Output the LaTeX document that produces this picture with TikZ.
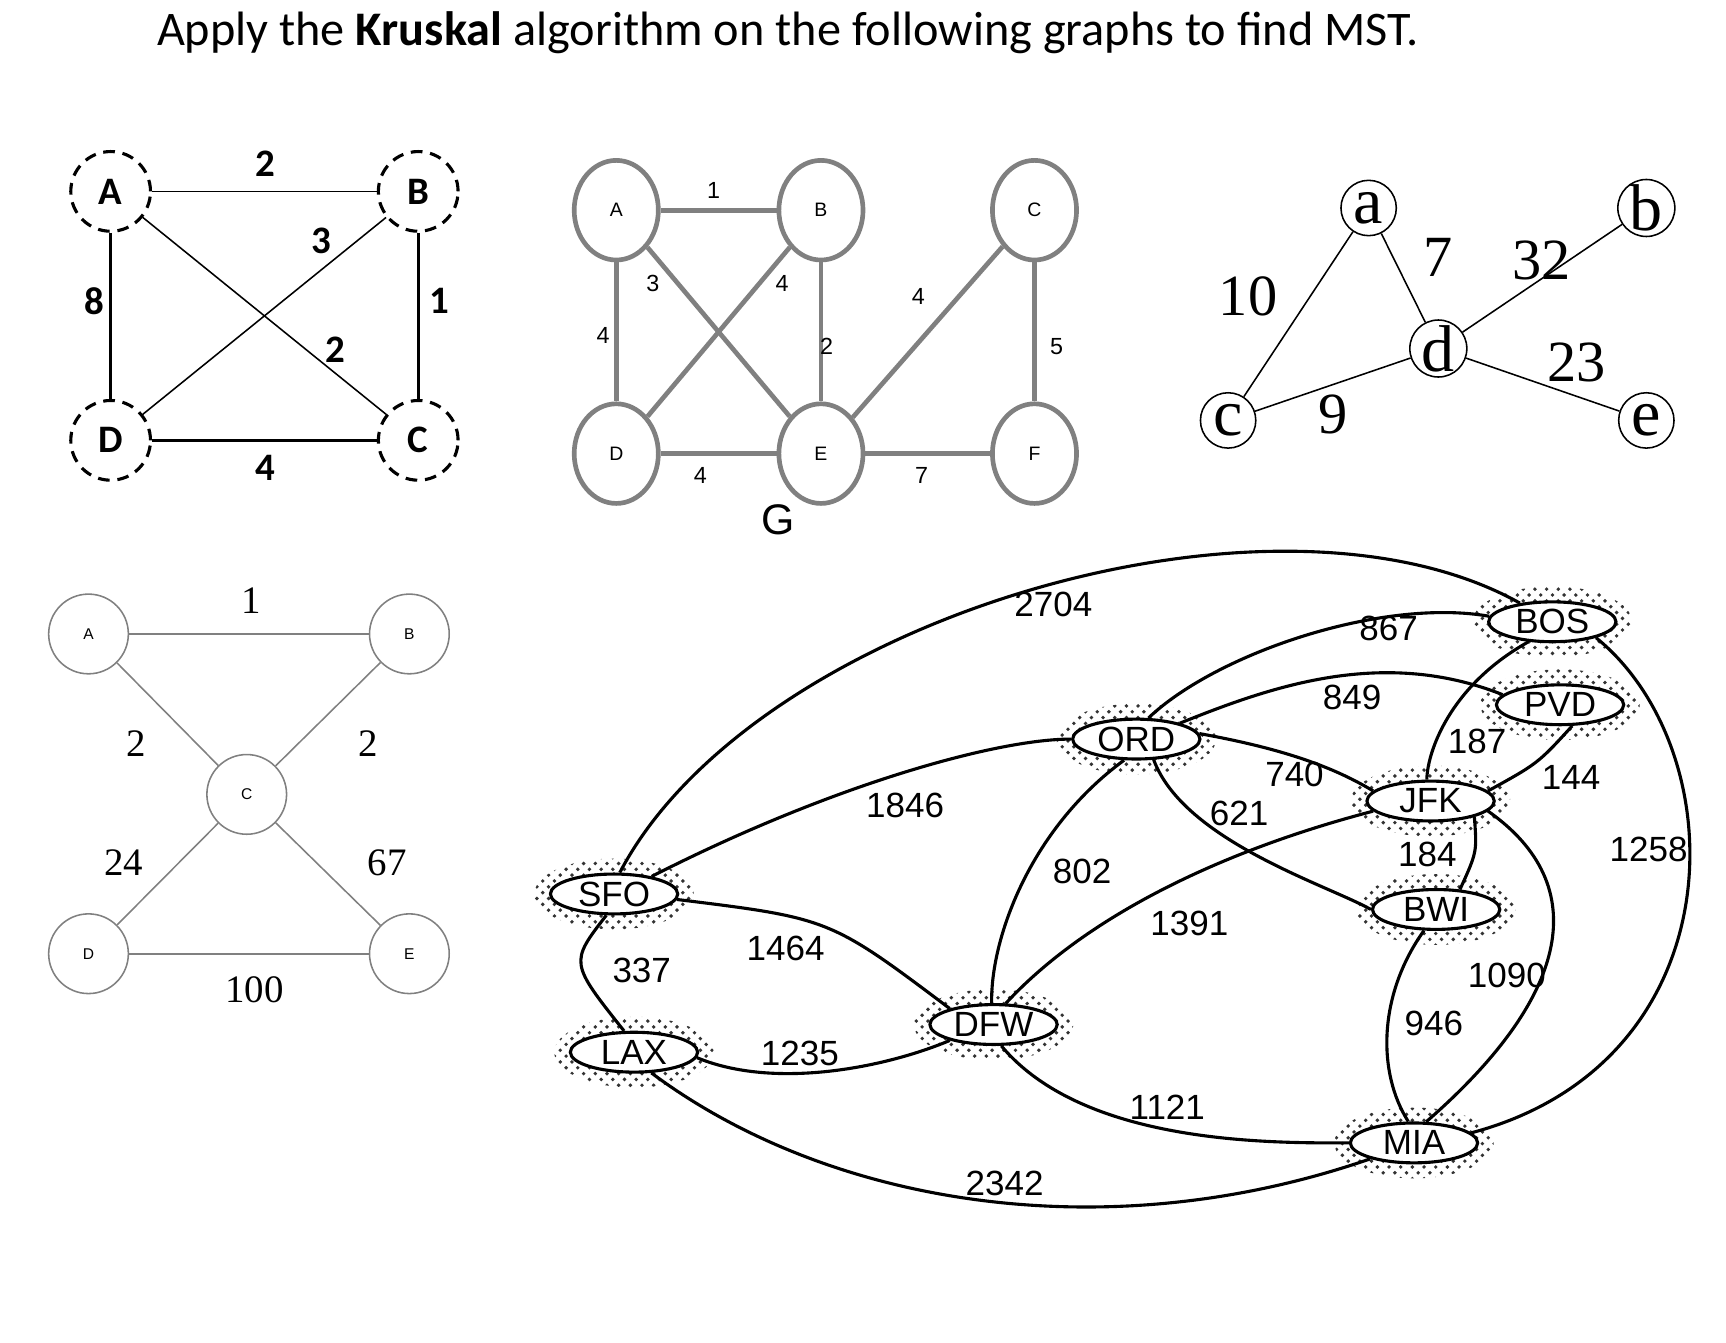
\documentclass[tikz,border=0pt]{standalone}
\usepackage{fontspec}
\setmainfont{Liberation Serif}
\newfontfamily\calfnt{Carlito}
\newfontfamily\ars{Liberation Sans}
\usetikzlibrary{shapes.geometric,patterns}
\begin{document}
\begin{tikzpicture}[x=0.01cm,y=-0.01cm,
 g1/.style={circle,draw,densely dashed,thick,minimum size=0.72cm,font=\calfnt\bfseries\fontsize{10}{12}\selectfont},
 l1/.style={font=\calfnt\bfseries\fontsize{10}{12}\selectfont},
 g2/.style={ellipse,draw=gray,line width=1.2pt,minimum width=0.76cm,minimum height=0.9cm,font=\ars\fontsize{5}{6}\selectfont},
 e2/.style={gray,line width=1.2pt},
 l2/.style={font=\ars\fontsize{6}{7}\selectfont},
 g3/.style={circle,draw,minimum size=0.5cm,inner sep=0pt,font=\fontsize{17}{18}\selectfont},
 l3/.style={font=\fontsize{15}{16}\selectfont},
 g4/.style={circle,draw=gray,minimum size=0.72cm,font=\ars\fontsize{4}{5}\selectfont},
 e4/.style={gray},
 l4/.style={font=\fontsize{10}{12}\selectfont},
 ap/.style={ellipse,draw,thick,fill=white,minimum width=1.15cm,minimum height=0.36cm,inner sep=0pt,font=\ars\fontsize{9}{10}\selectfont},
 l5/.style={font=\ars\fontsize{9}{10}\selectfont},
 e5/.style={thick}]
\useasboundingbox (0,0) rectangle (1560,1213);
\node[font=\calfnt\fontsize{12.4}{14}\selectfont] (title) at (712,30) {Apply the \textbf{Kruskal} algorithm on the following graphs to find MST.};
% graph 1
\node[g1] (A1) at (100,173) {A}; \node[g1] (B1) at (378,173) {B};
\node[g1] (D1) at (100,398) {D}; \node[g1] (C1) at (378,398) {C};
\draw (A1)--(B1); \draw[thick] (A1)--(D1); \draw[thick] (B1)--(C1); \draw[thick] (D1)--(C1);
\draw (A1)--(C1); \draw (B1)--(D1);
\node[l1] at (240,148) {2}; \node[l1] at (85,272) {8}; \node[l1] at (397,272) {1};
\node[l1] at (240,423) {4}; \node[l1] at (303,316) {2}; \node[l1] at (290,218) {3};
% graph 2
\node[g2] (A2) at (557,190) {A}; \node[g2] (B2) at (742,190) {B}; \node[g2] (C2) at (935,190) {C};
\node[g2] (D2) at (557,410) {D}; \node[g2] (E2) at (742,410) {E}; \node[g2] (F2) at (935,410) {F};
\draw[e2] (A2)--(B2); \draw[e2] (A2)--(D2); \draw[e2] (A2)--(E2); \draw[e2] (B2)--(D2);
\draw[e2] (B2)--(E2); \draw[e2] (E2)--(C2); \draw[e2] (C2)--(F2); \draw[e2] (D2)--(E2); \draw[e2] (E2)--(F2);
\node[l2] at (645,172) {1}; \node[l2] at (545,303) {4}; \node[l2] at (590,256) {3};
\node[l2] at (707,256) {4}; \node[l2] at (747,313) {2}; \node[l2] at (830,268) {4};
\node[l2] at (955,313) {5}; \node[l2] at (633,430) {4}; \node[l2] at (833,430) {7};
\node[font=\ars\fontsize{11}{12}\selectfont] (G) at (703,470) {G};
% graph 3
\node[g3] (a3) at (1237,188) {a}; \node[g3] (b3) at (1488,188) {b};
\node[g3] (c3) at (1110,380) {c}; \node[g3] (d3) at (1300,315) {d}; \node[g3] (e3) at (1488,380) {e};
\draw (a3)--(c3); \draw (a3)--(d3); \draw (d3)--(b3); \draw (c3)--(d3); \draw (d3)--(e3);
\node[l3] at (1128,268) {10}; \node[l3] at (1300,233) {7}; \node[l3] at (1393,235) {32};
\node[l3] at (1205,375) {9}; \node[l3] at (1425,328) {23};
% graph 4
\node[g4] (A4) at (80,573) {A}; \node[g4] (B4) at (370,573) {B}; \node[g4] (C4) at (223,718) {C};
\node[g4] (D4) at (80,862) {D}; \node[g4] (E4) at (370,862) {E};
\draw[e4] (A4)--(B4); \draw[e4] (A4)--(C4); \draw[e4] (B4)--(C4);
\draw[e4] (C4)--(D4); \draw[e4] (C4)--(E4); \draw[e4] (D4)--(E4);
\node[l4] at (227,543) {1}; \node[l4] at (123,672) {2}; \node[l4] at (333,672) {2};
\node[l4] at (112,780) {24}; \node[l4] at (350,780) {67}; \node[l4] at (230,895) {100};
% graph 5 halos
\foreach \x/\y in {1403/562,1410/637,1027/668,1293/724,1298/822,555/808,898/926,573/951,1278/1033}
  \fill[pattern=crosshatch dots,pattern color=black!80] (\x,\y) ellipse (0.72cm and 0.32cm);
\node[ap] (BOS) at (1403,562) {BOS}; \node[ap] (PVD) at (1410,637) {PVD};
\node[ap] (ORD) at (1027,668) {ORD}; \node[ap] (JFK) at (1293,724) {JFK};
\node[ap] (BWI) at (1298,822) {BWI}; \node[ap] (SFO) at (555,808) {SFO};
\node[ap] (DFW) at (898,926) {DFW}; \node[ap] (LAX) at (573,951) {LAX};
\node[ap] (MIA) at (1278,1033) {MIA};
\draw[e5] (SFO.75) .. controls (680,560) and (1150,420) .. (BOS.150);
\draw[e5] (ORD.60) .. controls (1100,590) and (1250,540) .. (BOS.175);
\draw[e5] (ORD.20) .. controls (1150,620) and (1250,585) .. (PVD.170);
\draw[e5] (ORD.5) .. controls (1150,675) and (1200,690) .. (JFK.170);
\draw[e5] (ORD.-50) .. controls (1070,760) and (1200,800) .. (BWI.180);
\draw[e5] (SFO.25) .. controls (750,710) and (900,668) .. (ORD.180);
\draw[e5] (ORD.-120) .. controls (930,750) and (895,850) .. (DFW.95);
\draw[e5] (JFK.190) .. controls (1100,770) and (980,830) .. (DFW.60);
\draw[e5] (BOS.-140) .. controls (1310,620) and (1290,680) .. (JFK.100);
\draw[e5] (PVD.-60) .. controls (1390,690) .. (JFK.10);
\draw[e5] (JFK.-20) .. controls (1335,770) .. (BWI.40);
\draw[e5] (JFK.-10) .. controls (1440,800) and (1420,900) .. (MIA.60);
\draw[e5] (BOS.-20) .. controls (1570,680) and (1570,960) .. (MIA.10);
\draw[e5] (BWI.-120) .. controls (1245,900) and (1245,970) .. (MIA.105);
\draw[e5] (SFO.-5) .. controls (750,830) .. (DFW.160);
\draw[e5] (SFO.-110) .. controls (515,870) .. (LAX.115);
\draw[e5] (LAX.-5) .. controls (700,985) and (800,965) .. (DFW.200);
\draw[e5] (DFW.-70) .. controls (980,1035) and (1150,1033) .. (MIA.180);
\draw[e5] (LAX.-50) .. controls (750,1090) and (1000,1130) .. (MIA.200);
\node[l5] at (952,546) {2704}; \node[l5] at (1255,568) {867}; \node[l5] at (1222,630) {849};
\node[l5] at (1170,700) {740}; \node[l5] at (1120,735) {621}; \node[l5] at (818,728) {1846};
\node[l5] at (978,788) {802}; \node[l5] at (1075,835) {1391}; \node[l5] at (1335,670) {187};
\node[l5] at (1420,703) {144}; \node[l5] at (1290,772) {184}; \node[l5] at (1362,882) {1090};
\node[l5] at (1490,768) {1258}; \node[l5] at (1296,925) {946}; \node[l5] at (710,857) {1464};
\node[l5] at (580,877) {337}; \node[l5] at (723,952) {1235}; \node[l5] at (1055,1001) {1121};
\node[l5] at (908,1070) {2342};
\end{tikzpicture}
\end{document}
